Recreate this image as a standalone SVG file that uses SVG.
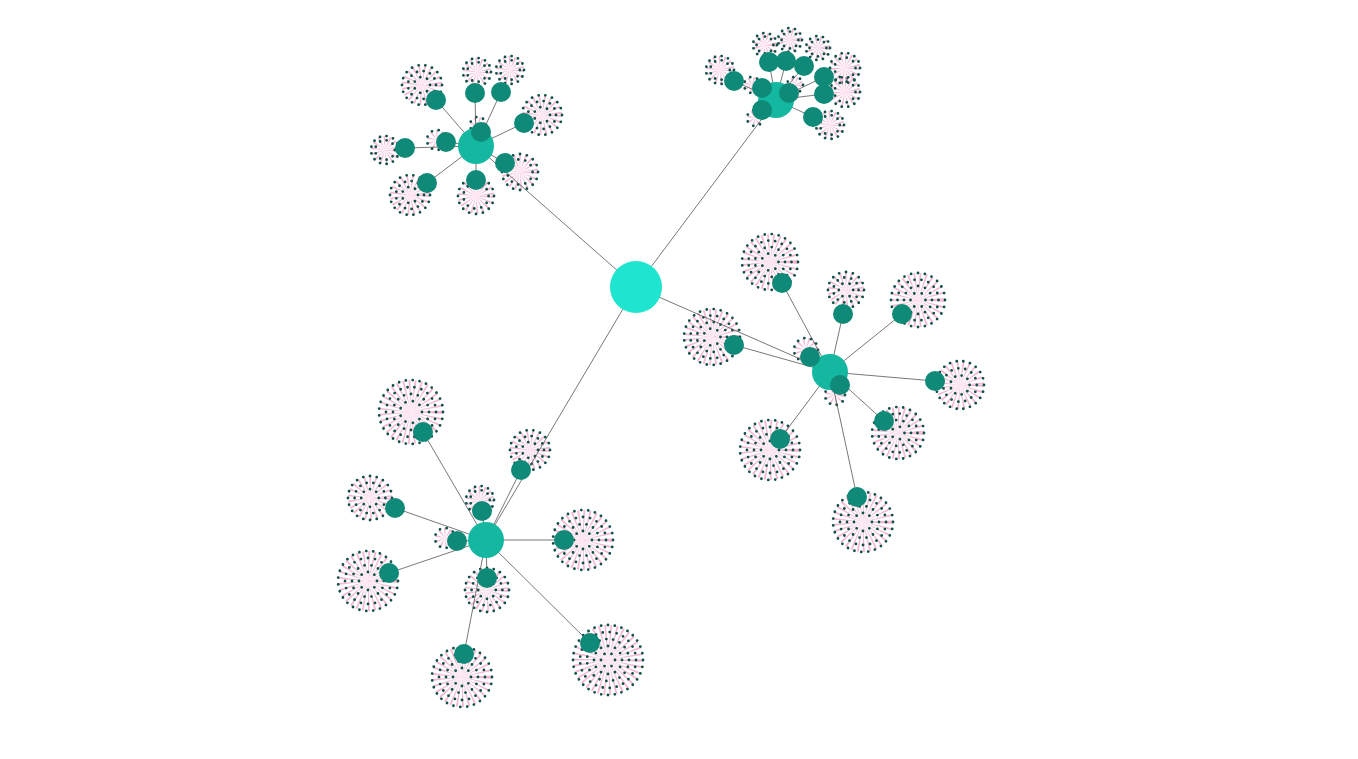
<svg xmlns="http://www.w3.org/2000/svg" width="1358" height="759" viewBox="0 0 1358 759">
<style>
.s{fill:none;stroke:#f59ac0;stroke-opacity:.7;stroke-dasharray:1 2.2}
.d{fill:none;stroke:#0b5148;stroke-width:2.8;stroke-linecap:round;stroke-dasharray:0 1}
.e line{stroke:#555;stroke-width:.8}
.m{fill:#0f8a78}
.h{fill:#14b8a0}
</style>
<rect width="1358" height="759" fill="#fff"/>
<g id="fans">
<g><circle class="s" cx="422" cy="85" r="10" stroke-width="20"/><circle class="d" cx="422" cy="85" r="20" pathLength="18"/><circle class="d" cx="422" cy="85" r="14" pathLength="13"/><circle class="d" cx="422" cy="85" r="8" pathLength="7"/></g>
<g><circle class="s" cx="477" cy="72" r="7" stroke-width="14"/><circle class="d" cx="477" cy="72" r="14" pathLength="13"/><circle class="d" cx="477" cy="72" r="9.8" pathLength="9"/></g>
<g><circle class="s" cx="510" cy="70" r="7" stroke-width="14"/><circle class="d" cx="510" cy="70" r="14" pathLength="13"/><circle class="d" cx="510" cy="70" r="9.8" pathLength="9"/></g>
<g><circle class="s" cx="542" cy="115" r="10" stroke-width="20"/><circle class="d" cx="542" cy="115" r="20" pathLength="18"/><circle class="d" cx="542" cy="115" r="14" pathLength="13"/><circle class="d" cx="542" cy="115" r="8" pathLength="7"/></g>
<g><circle class="s" cx="520" cy="172" r="9" stroke-width="18"/><circle class="d" cx="520" cy="172" r="18" pathLength="16"/><circle class="d" cx="520" cy="172" r="12.6" pathLength="11"/></g>
<g><circle class="s" cx="476" cy="196" r="9" stroke-width="18"/><circle class="d" cx="476" cy="196" r="18" pathLength="16"/><circle class="d" cx="476" cy="196" r="12.6" pathLength="11"/></g>
<g><circle class="s" cx="410" cy="195" r="10" stroke-width="20"/><circle class="d" cx="410" cy="195" r="20" pathLength="18"/><circle class="d" cx="410" cy="195" r="14" pathLength="13"/><circle class="d" cx="410" cy="195" r="8" pathLength="7"/></g>
<g><circle class="s" cx="385" cy="150" r="7" stroke-width="14"/><circle class="d" cx="385" cy="150" r="14" pathLength="13"/><circle class="d" cx="385" cy="150" r="9.8" pathLength="9"/></g>
<g><circle class="s" cx="437" cy="140" r="5" stroke-width="10"/><circle class="d" cx="437" cy="140" r="10" pathLength="9"/></g>
<g><circle class="s" cx="478" cy="125" r="4" stroke-width="8"/><circle class="d" cx="478" cy="125" r="8" pathLength="7"/></g>
<g><circle class="s" cx="720" cy="70" r="7" stroke-width="14"/><circle class="d" cx="720" cy="70" r="14" pathLength="13"/><circle class="d" cx="720" cy="70" r="9.8" pathLength="9"/></g>
<g><circle class="s" cx="765" cy="45" r="6" stroke-width="12"/><circle class="d" cx="765" cy="45" r="12" pathLength="11"/><circle class="d" cx="765" cy="45" r="8.4" pathLength="8"/></g>
<g><circle class="s" cx="790" cy="40" r="6" stroke-width="12"/><circle class="d" cx="790" cy="40" r="12" pathLength="11"/><circle class="d" cx="790" cy="40" r="8.4" pathLength="8"/></g>
<g><circle class="s" cx="818" cy="48" r="6" stroke-width="12"/><circle class="d" cx="818" cy="48" r="12" pathLength="11"/><circle class="d" cx="818" cy="48" r="8.4" pathLength="8"/></g>
<g><circle class="s" cx="845" cy="68" r="7.5" stroke-width="15"/><circle class="d" cx="845" cy="68" r="15" pathLength="14"/><circle class="d" cx="845" cy="68" r="10.5" pathLength="9"/></g>
<g><circle class="s" cx="845" cy="92" r="7.5" stroke-width="15"/><circle class="d" cx="845" cy="92" r="15" pathLength="14"/><circle class="d" cx="845" cy="92" r="10.5" pathLength="9"/></g>
<g><circle class="s" cx="830" cy="125" r="7" stroke-width="14"/><circle class="d" cx="830" cy="125" r="14" pathLength="13"/><circle class="d" cx="830" cy="125" r="9.8" pathLength="9"/></g>
<g><circle class="s" cx="755" cy="118" r="4" stroke-width="8"/><circle class="d" cx="755" cy="118" r="8" pathLength="7"/></g>
<g><circle class="s" cx="752" cy="85" r="4" stroke-width="8"/><circle class="d" cx="752" cy="85" r="8" pathLength="7"/></g>
<g><circle class="s" cx="795" cy="85" r="4" stroke-width="8"/><circle class="d" cx="795" cy="85" r="8" pathLength="7"/></g>
<g><circle class="s" cx="770" cy="262" r="14" stroke-width="28"/><circle class="d" cx="770" cy="262" r="28" pathLength="25"/><circle class="d" cx="770" cy="262" r="21.5" pathLength="19"/><circle class="d" cx="770" cy="262" r="15" pathLength="13"/><circle class="d" cx="770" cy="262" r="8.5" pathLength="7"/></g>
<g><circle class="s" cx="846" cy="290" r="9" stroke-width="18"/><circle class="d" cx="846" cy="290" r="18" pathLength="16"/><circle class="d" cx="846" cy="290" r="12.6" pathLength="11"/><circle class="d" cx="846" cy="290" r="7.2" pathLength="6"/></g>
<g><circle class="s" cx="918" cy="300" r="13.5" stroke-width="27"/><circle class="d" cx="918" cy="300" r="27" pathLength="24"/><circle class="d" cx="918" cy="300" r="20.5" pathLength="18"/><circle class="d" cx="918" cy="300" r="14" pathLength="12"/><circle class="d" cx="918" cy="300" r="7.5" pathLength="6"/></g>
<g><circle class="s" cx="960" cy="385" r="12" stroke-width="24"/><circle class="d" cx="960" cy="385" r="24" pathLength="22"/><circle class="d" cx="960" cy="385" r="16.8" pathLength="15"/><circle class="d" cx="960" cy="385" r="9.6" pathLength="9"/></g>
<g><circle class="s" cx="898" cy="433" r="13" stroke-width="26"/><circle class="d" cx="898" cy="433" r="26" pathLength="23"/><circle class="d" cx="898" cy="433" r="19.5" pathLength="17"/><circle class="d" cx="898" cy="433" r="13" pathLength="11"/><circle class="d" cx="898" cy="433" r="6.5" pathLength="5"/></g>
<g><circle class="s" cx="863" cy="522" r="15" stroke-width="30"/><circle class="d" cx="863" cy="522" r="30" pathLength="27"/><circle class="d" cx="863" cy="522" r="23" pathLength="20"/><circle class="d" cx="863" cy="522" r="16" pathLength="14"/><circle class="d" cx="863" cy="522" r="9" pathLength="8"/></g>
<g><circle class="s" cx="770" cy="450" r="15" stroke-width="30"/><circle class="d" cx="770" cy="450" r="30" pathLength="27"/><circle class="d" cx="770" cy="450" r="23" pathLength="20"/><circle class="d" cx="770" cy="450" r="16" pathLength="14"/><circle class="d" cx="770" cy="450" r="9" pathLength="8"/></g>
<g><circle class="s" cx="712" cy="337" r="14" stroke-width="28"/><circle class="d" cx="712" cy="337" r="28" pathLength="25"/><circle class="d" cx="712" cy="337" r="21.5" pathLength="19"/><circle class="d" cx="712" cy="337" r="15" pathLength="13"/><circle class="d" cx="712" cy="337" r="8.5" pathLength="7"/></g>
<g><circle class="s" cx="806" cy="350" r="6" stroke-width="12"/><circle class="d" cx="806" cy="350" r="12" pathLength="11"/></g>
<g><circle class="s" cx="835" cy="395" r="5" stroke-width="10"/><circle class="d" cx="835" cy="395" r="10" pathLength="9"/></g>
<g><circle class="s" cx="411" cy="412" r="16" stroke-width="32"/><circle class="d" cx="411" cy="412" r="32" pathLength="29"/><circle class="d" cx="411" cy="412" r="25" pathLength="22"/><circle class="d" cx="411" cy="412" r="18" pathLength="16"/><circle class="d" cx="411" cy="412" r="11" pathLength="9"/></g>
<g><circle class="s" cx="530" cy="450" r="10" stroke-width="20"/><circle class="d" cx="530" cy="450" r="20" pathLength="18"/><circle class="d" cx="530" cy="450" r="14" pathLength="13"/><circle class="d" cx="530" cy="450" r="8" pathLength="7"/></g>
<g><circle class="s" cx="370" cy="498" r="11" stroke-width="22"/><circle class="d" cx="370" cy="498" r="22" pathLength="20"/><circle class="d" cx="370" cy="498" r="15.4" pathLength="14"/><circle class="d" cx="370" cy="498" r="8.8" pathLength="8"/></g>
<g><circle class="s" cx="368" cy="581" r="15" stroke-width="30"/><circle class="d" cx="368" cy="581" r="30" pathLength="27"/><circle class="d" cx="368" cy="581" r="23" pathLength="20"/><circle class="d" cx="368" cy="581" r="16" pathLength="14"/><circle class="d" cx="368" cy="581" r="9" pathLength="8"/></g>
<g><circle class="s" cx="462" cy="677" r="15" stroke-width="30"/><circle class="d" cx="462" cy="677" r="30" pathLength="27"/><circle class="d" cx="462" cy="677" r="23" pathLength="20"/><circle class="d" cx="462" cy="677" r="16" pathLength="14"/><circle class="d" cx="462" cy="677" r="9" pathLength="8"/></g>
<g><circle class="s" cx="608" cy="660" r="17.5" stroke-width="35"/><circle class="d" cx="608" cy="660" r="35" pathLength="32"/><circle class="d" cx="608" cy="660" r="28" pathLength="25"/><circle class="d" cx="608" cy="660" r="21" pathLength="19"/><circle class="d" cx="608" cy="660" r="14" pathLength="12"/><circle class="d" cx="608" cy="660" r="7" pathLength="6"/></g>
<g><circle class="s" cx="583" cy="540" r="15" stroke-width="30"/><circle class="d" cx="583" cy="540" r="30" pathLength="27"/><circle class="d" cx="583" cy="540" r="23" pathLength="20"/><circle class="d" cx="583" cy="540" r="16" pathLength="14"/><circle class="d" cx="583" cy="540" r="9" pathLength="8"/></g>
<g><circle class="s" cx="480" cy="500" r="7" stroke-width="14"/><circle class="d" cx="480" cy="500" r="14" pathLength="13"/><circle class="d" cx="480" cy="500" r="9.8" pathLength="9"/></g>
<g><circle class="s" cx="445" cy="538" r="5" stroke-width="10"/><circle class="d" cx="445" cy="538" r="10" pathLength="9"/></g>
<g><circle class="s" cx="487" cy="590" r="11" stroke-width="22"/><circle class="d" cx="487" cy="590" r="22" pathLength="20"/><circle class="d" cx="487" cy="590" r="15.4" pathLength="14"/><circle class="d" cx="487" cy="590" r="8.8" pathLength="8"/></g>
</g>
<g id="edges" class="e">
<line x1="636" y1="287" x2="476" y2="146"/><line x1="636" y1="287" x2="776" y2="100"/><line x1="636" y1="287" x2="830" y2="372"/><line x1="636" y1="287" x2="486" y2="540"/>
<line x1="476" y1="146" x2="436" y2="100"/><line x1="476" y1="146" x2="475" y2="93"/><line x1="476" y1="146" x2="501" y2="92"/><line x1="476" y1="146" x2="524" y2="123"/><line x1="476" y1="146" x2="505" y2="163"/><line x1="476" y1="146" x2="476" y2="180"/><line x1="476" y1="146" x2="427" y2="183"/><line x1="476" y1="146" x2="405" y2="148"/><line x1="476" y1="146" x2="446" y2="142"/><line x1="476" y1="146" x2="481" y2="132"/>
<line x1="776" y1="100" x2="734" y2="81"/><line x1="776" y1="100" x2="769" y2="62"/><line x1="776" y1="100" x2="786" y2="61"/><line x1="776" y1="100" x2="804" y2="66"/><line x1="776" y1="100" x2="824" y2="77"/><line x1="776" y1="100" x2="824" y2="94"/><line x1="776" y1="100" x2="813" y2="117"/><line x1="776" y1="100" x2="762" y2="110"/><line x1="776" y1="100" x2="762" y2="88"/><line x1="776" y1="100" x2="789" y2="93"/>
<line x1="830" y1="372" x2="782" y2="283"/><line x1="830" y1="372" x2="843" y2="314"/><line x1="830" y1="372" x2="902" y2="314"/><line x1="830" y1="372" x2="935" y2="381"/><line x1="830" y1="372" x2="884" y2="421"/><line x1="830" y1="372" x2="857" y2="497"/><line x1="830" y1="372" x2="780" y2="439"/><line x1="830" y1="372" x2="734" y2="345"/><line x1="830" y1="372" x2="810" y2="357"/><line x1="830" y1="372" x2="840" y2="385"/>
<line x1="486" y1="540" x2="423" y2="432"/><line x1="486" y1="540" x2="521" y2="470"/><line x1="486" y1="540" x2="395" y2="508"/><line x1="486" y1="540" x2="389" y2="573"/><line x1="486" y1="540" x2="464" y2="654"/><line x1="486" y1="540" x2="590" y2="643"/><line x1="486" y1="540" x2="564" y2="540"/><line x1="486" y1="540" x2="482" y2="511"/><line x1="486" y1="540" x2="457" y2="541"/><line x1="486" y1="540" x2="487" y2="578"/>
</g>
<g id="hub"><circle cx="636" cy="287" r="26" fill="#1de5cf"/></g>
<g id="subhubs" class="h"><circle id="sA" cx="476" cy="146" r="18"/><circle id="sB" cx="776" cy="100" r="18"/><circle id="sC" cx="830" cy="372" r="18"/><circle id="sD" cx="486" cy="540" r="18"/></g>
<g id="mids" class="m">
<circle cx="436" cy="100" r="10"/><circle cx="475" cy="93" r="10"/><circle cx="501" cy="92" r="10"/><circle cx="524" cy="123" r="10"/><circle cx="505" cy="163" r="10"/><circle cx="476" cy="180" r="10"/><circle cx="427" cy="183" r="10"/><circle cx="405" cy="148" r="10"/><circle cx="446" cy="142" r="10"/><circle cx="481" cy="132" r="10"/>
<circle cx="734" cy="81" r="10"/><circle cx="769" cy="62" r="10"/><circle cx="786" cy="61" r="10"/><circle cx="804" cy="66" r="10"/><circle cx="824" cy="77" r="10"/><circle cx="824" cy="94" r="10"/><circle cx="813" cy="117" r="10"/><circle cx="762" cy="110" r="10"/><circle cx="762" cy="88" r="10"/><circle cx="789" cy="93" r="10"/>
<circle cx="782" cy="283" r="10"/><circle cx="843" cy="314" r="10"/><circle cx="902" cy="314" r="10"/><circle cx="935" cy="381" r="10"/><circle cx="884" cy="421" r="10"/><circle cx="857" cy="497" r="10"/><circle cx="780" cy="439" r="10"/><circle cx="734" cy="345" r="10"/><circle cx="810" cy="357" r="10"/><circle cx="840" cy="385" r="10"/>
<circle cx="423" cy="432" r="10"/><circle cx="521" cy="470" r="10"/><circle cx="395" cy="508" r="10"/><circle cx="389" cy="573" r="10"/><circle cx="464" cy="654" r="10"/><circle cx="590" cy="643" r="10"/><circle cx="564" cy="540" r="10"/><circle cx="482" cy="511" r="10"/><circle cx="457" cy="541" r="10"/><circle cx="487" cy="578" r="10"/>
</g>
</svg>
